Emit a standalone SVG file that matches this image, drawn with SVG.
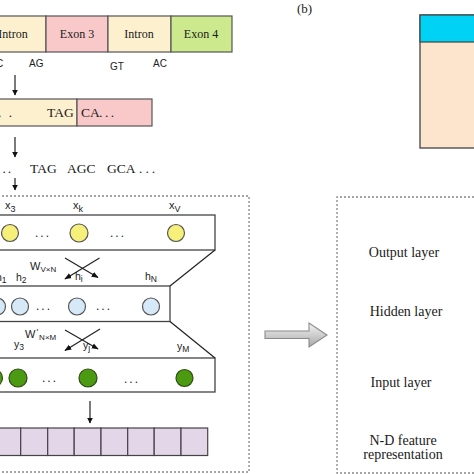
<svg xmlns="http://www.w3.org/2000/svg" width="474" height="474" viewBox="0 0 474 474">
<style>
.serif{font-family:"Liberation Serif","Times New Roman",serif;fill:#1a1a1a}
.sans{font-family:"Liberation Sans",Arial,sans-serif;fill:#222}
.seg{stroke:#555;stroke-width:1.2}
.beige{fill:#fdf0cf}
.pink{fill:#f9c9c9}
.green{fill:#cde98d}
.row{fill:#fff;stroke:#444;stroke-width:1.3}
.yc{fill:#f6ef7a;stroke:#555;stroke-width:1.2}
.bc{fill:#d6e9f8;stroke:#555;stroke-width:1.2}
.gc{fill:#4b9a12;stroke:#2d4d10;stroke-width:1.2}
.pb{fill:#e3d6e9;stroke:#444;stroke-width:1.2}
.dash{fill:none;stroke:#888;stroke-width:1.3;stroke-dasharray:2 2}
.ln{stroke:#222;stroke-width:1.2;fill:none}
.dots{font-family:"Liberation Sans",Arial,sans-serif;fill:#222;font-size:12px;letter-spacing:2px}
</style>
<defs>
<marker id="ah" viewBox="0 0 10 10" refX="9" refY="5" markerWidth="6" markerHeight="6" orient="auto" markerUnits="userSpaceOnUse">
<path d="M0,0 L10,5 L0,10 z" fill="#111"/>
</marker>
<marker id="ahs" viewBox="0 0 10 10" refX="9" refY="5" markerWidth="7" markerHeight="7" orient="auto" markerUnits="userSpaceOnUse">
<path d="M0,1 L10,5 L0,9 z" fill="#111"/>
</marker>
<linearGradient id="ag" x1="0" y1="0" x2="0" y2="1">
<stop offset="0" stop-color="#f4f4f4"/>
<stop offset="1" stop-color="#a8a8a8"/>
</linearGradient>
</defs>

<!-- (a) gene structure -->
<g id="gene-bar">
<rect class="seg beige" x="-5" y="16" width="51" height="36"/>
<rect class="seg pink" x="46" y="16" width="62" height="36"/>
<rect class="seg beige" x="108" y="16" width="63" height="36"/>
<rect class="seg green" x="171" y="16" width="61" height="36"/>
<text class="serif" font-size="12" x="13" y="38" text-anchor="middle">Intron</text>
<text class="serif" font-size="12" x="77" y="38" text-anchor="middle">Exon 3</text>
<text class="serif" font-size="12" x="139" y="38" text-anchor="middle">Intron</text>
<text class="serif" font-size="12" x="201" y="38" text-anchor="middle">Exon 4</text>
</g>
<g id="splice-labels">
<text class="sans" font-size="10" x="-4" y="67">C</text>
<text class="sans" font-size="10" x="29" y="67">AG</text>
<text class="sans" font-size="10" x="110" y="70">GT</text>
<text class="sans" font-size="10" x="153" y="67">AC</text>
</g>
<g id="spliced-bar">
<rect class="seg beige" x="-5" y="99" width="82" height="27"/>
<rect class="seg pink" x="77" y="99" width="75" height="27"/>
<text class="serif" font-size="13.5" y="117"><tspan x="-2" letter-spacing="2">. .</tspan><tspan x="47">TAG</tspan><tspan x="81">CA</tspan><tspan x="99" letter-spacing="2.5">...</tspan></text>
</g>
<g id="kmers">
<text class="serif" font-size="13.5" y="173"><tspan x="-3" letter-spacing="2">...</tspan><tspan x="30">TAG</tspan><tspan x="67">AGC</tspan><tspan x="107">GCA</tspan><tspan x="139" letter-spacing="3">...</tspan></text>
</g>

<!-- left dashed frame -->
<g id="frame-left">
<path class="dash" d="M-2,196 L249,196 L249,472 L-2,472"/>
</g>

<!-- network -->
<g id="input-layer">
<rect class="row" x="-5" y="215" width="220" height="35"/>
<circle class="yc" cx="10" cy="233" r="8.5"/>
<circle class="yc" cx="79" cy="233" r="9"/>
<circle class="yc" cx="176" cy="233" r="8.5"/>
<text class="dots" x="35" y="237">...</text>
<text class="dots" x="110" y="237">...</text>
<text class="sans" font-size="11" x="5" y="209">x<tspan font-size="9" dy="3">3</tspan></text>
<text class="sans" font-size="11" x="73" y="209">x<tspan font-size="9" dy="3">k</tspan></text>
<text class="sans" font-size="11" x="169" y="209">x<tspan font-size="9" dy="3">V</tspan></text>
</g>
<g id="hidden-layer">
<rect class="row" x="-5" y="286" width="175" height="35.5"/>
<circle class="bc" cx="-3" cy="306.5" r="8.5"/>
<circle class="bc" cx="20" cy="306.5" r="8.5"/>
<circle class="bc" cx="77" cy="306.5" r="8.5"/>
<circle class="bc" cx="151" cy="306.5" r="8.5"/>
<text class="dots" x="36" y="310">...</text>
<text class="dots" x="96" y="310">...</text>
<text class="sans" font-size="10.5" x="-4" y="281">h<tspan font-size="8.5" dy="2">1</tspan></text>
<text class="sans" font-size="10.5" x="16" y="281">h<tspan font-size="8.5" dy="2">2</tspan></text>
<text class="sans" font-size="10.5" x="75" y="280">h<tspan font-size="8.5" dy="2">i</tspan></text>
<text class="sans" font-size="10.5" x="145" y="280">h<tspan font-size="8.5" dy="2">N</tspan></text>
<text class="sans" font-size="11" x="30" y="270">W<tspan font-size="8" dy="2">V×N</tspan></text>
</g>
<g id="output-layer">
<rect class="row" x="-5" y="358" width="220" height="34"/>
<circle class="gc" cx="-6" cy="378" r="8.5"/>
<circle class="gc" cx="18" cy="378" r="9"/>
<circle class="gc" cx="88" cy="378" r="9"/>
<circle class="gc" cx="184.5" cy="378" r="8.5"/>
<text class="dots" x="42" y="382">...</text>
<text class="dots" x="124" y="383">...</text>
<text class="sans" font-size="10.5" x="14" y="348">y<tspan font-size="8.5" dy="2">3</tspan></text>
<text class="sans" font-size="10.5" x="83" y="349">y<tspan font-size="8.5" dy="2">j</tspan></text>
<text class="sans" font-size="10.5" x="177" y="350">y<tspan font-size="8.5" dy="2">M</tspan></text>
<text class="sans" font-size="11" x="25" y="338">W<tspan font-size="9" dx="1" dy="-3">'</tspan><tspan font-size="8" dx="1" dy="5">N×M</tspan></text>
</g>
<g id="feature-vector">
<rect class="pb" x="-6" y="428" width="26.7" height="27.5"/>
<rect class="pb" x="20.7" y="428" width="27" height="27.5"/>
<rect class="pb" x="47.7" y="428" width="26.5" height="27.5"/>
<rect class="pb" x="74.2" y="428" width="26.8" height="27.5"/>
<rect class="pb" x="101" y="428" width="26.7" height="27.5"/>
<rect class="pb" x="127.7" y="428" width="26.5" height="27.5"/>
<rect class="pb" x="154.2" y="428" width="26.8" height="27.5"/>
<rect class="pb" x="181" y="428" width="26.7" height="27.5"/>
</g>

<!-- connectors -->
<g id="connectors">
<line class="ln" x1="15" y1="75" x2="15" y2="95" marker-end="url(#ah)"/>
<line class="ln" x1="15" y1="137" x2="15" y2="157" marker-end="url(#ah)"/>
<line class="ln" x1="15" y1="178" x2="15" y2="190" marker-end="url(#ah)"/>
<line class="ln" x1="90" y1="401" x2="90" y2="423" marker-end="url(#ah)"/>
<line class="ln" x1="215" y1="250" x2="170" y2="286"/>
<line class="ln" x1="170" y1="321.5" x2="215" y2="358"/>
<line class="ln" x1="65" y1="258" x2="98" y2="277.5" marker-end="url(#ahs)"/>
<line class="ln" x1="99.5" y1="258" x2="65" y2="279" marker-end="url(#ahs)"/>
<line class="ln" x1="65" y1="330" x2="98" y2="349" marker-end="url(#ahs)"/>
<line class="ln" x1="100" y1="329" x2="65" y2="350.5" marker-end="url(#ahs)"/>
</g>

<!-- (b) -->
<text class="serif" font-size="13" x="297" y="13">(b)</text>
<g id="b-box">
<rect x="420" y="15" width="60" height="133" fill="#fde4cd" stroke="#444" stroke-width="1.3"/>
<rect x="420" y="15" width="60" height="27" fill="#00d2f6" stroke="#444" stroke-width="1.2"/>
</g>
<g id="big-arrow">
<path d="M265,331 L309,331 L309,323 L327,335 L309,347 L309,338.5 L265,338.5 Z" fill="url(#ag)" stroke="#8a8a8a" stroke-width="1.1"/>
</g>
<g id="frame-right">
<path class="dash" d="M478,197 L337,197 L337,473 L478,473"/>
<text class="serif" font-size="14" x="404" y="257" text-anchor="middle">Output layer</text>
<text class="serif" font-size="14" x="406" y="316" text-anchor="middle">Hidden layer</text>
<text class="serif" font-size="14" x="401" y="387" text-anchor="middle">Input layer</text>
<text class="serif" font-size="14" x="403" y="445" text-anchor="middle">N-D feature</text>
<text class="serif" font-size="14" x="403" y="459" text-anchor="middle">representation</text>
</g>
</svg>
